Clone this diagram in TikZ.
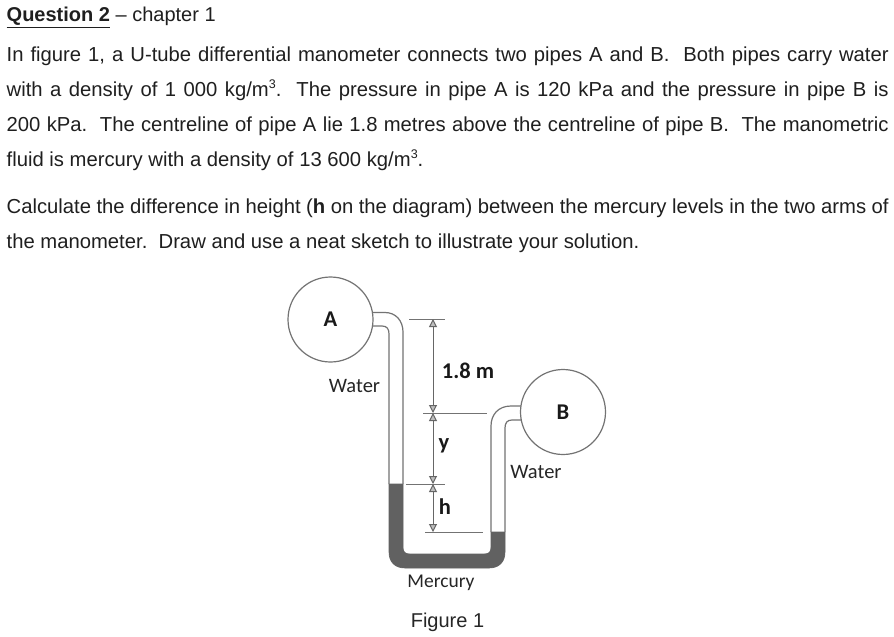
\documentclass[tikz,border=0pt]{standalone}
\usepackage{fontspec}
\setmainfont{Liberation Sans}
\newfontfamily\figfont{Carlito}
\usetikzlibrary{arrows.meta}
\tikzset{
  textline/.style={anchor=base west,inner sep=0pt,text=black!88,font=\fontsize{20.25}{22}\selectfont},
  figlabel/.style={inner sep=0pt,text=black!85,font=\figfont\fontsize{19.5}{22}\selectfont},
  figbold/.style={inner sep=0pt,text=black!90,font=\figfont\bfseries\fontsize{22.5}{24}\selectfont},
  pipe/.style={circle,draw=black!55,line width=1.2pt,minimum size=85pt,inner sep=0pt,fill=white},
  wall/.style={draw=black!55,line width=1.2pt},
  dim/.style={draw=black!55,line width=1pt},
  dimarrow/.style={draw=black!60,line width=1pt,{Triangle[fill=black!25,length=8pt,width=8pt]}-{Triangle[fill=black!25,length=8pt,width=8pt]}},
  mercury/.style={fill=black!62,draw=black!62,line width=0.6pt}
}
\newcommand{\justline}[1]{\hbox to 882pt{#1}}
\newcommand{\cubed}{\raisebox{.38em}{\fontsize{12.5}{13}\selectfont 3}}
\begin{document}
\begin{tikzpicture}[x=1pt,y=-1pt]
\useasboundingbox (0,0) rectangle (894,637);
\fill[white] (0,0) rectangle (894,637);
% text
\node[textline,font=\fontsize{20}{22}\selectfont] (t0) at (6.5,21.5) {\underline{\textbf{Question 2}} -- chapter 1};
\node[textline] (t1) at (6.5,61) {\justline{In figure 1, a U-tube differential manometer connects two pipes A and B.\ \ Both pipes carry water}};
\node[textline] (t2) at (6.5,96) {\justline{with a density of 1 000 kg/m\cubed.\ \ The pressure in pipe A is 120 kPa and the pressure in pipe B is}};
\node[textline] (t3) at (6.5,131.5) {\justline{200 kPa.\ \ The centreline of pipe A lie 1.8 metres above the centreline of pipe B.\ \ The manometric}};
\node[textline] (t4) at (6.5,166.5) {fluid is mercury with a density of 13 600 kg/m\cubed.};
\node[textline] (t5) at (6.5,213.5) {\justline{Calculate the difference in height (\textbf{h} on the diagram) between the mercury levels in the two arms of}};
\node[textline] (t6) at (6.5,248.5) {the manometer.\ \ Draw and use a neat sketch to illustrate your solution.};
% mercury
\path[mercury] (389,484) -- (403,484) -- (403,547) .. controls (403,552) and (405,554) .. (410,554)
  -- (484,554) .. controls (489,554) and (491,552) .. (491,547) -- (491,532) -- (505,532) -- (505,552)
  .. controls (505,562) and (499,568) .. (489,568) -- (405,568) .. controls (395,568) and (389,562) .. (389,552) -- cycle;
% tube walls
\coordinate (aout) at (371,312.5);
\coordinate (ain) at (371,326);
\coordinate (bout) at (522,406);
\coordinate (bin) at (522,420);
\draw[wall] (aout) -- (385,312.5) .. controls (396,312.5) and (403,321) .. (403,332) -- (403,484);
\draw[wall] (ain) -- (382,326) .. controls (387,326) and (389,329) .. (389,334) -- (389,484);
\draw[wall] (bout) -- (511,406) .. controls (498,406) and (491,415) .. (491,426) -- (491,532);
\draw[wall] (bin) -- (512,420) .. controls (507,420) and (505,423) .. (505,428) -- (505,532);
% pipes
\node[pipe,figbold] (A) at (330.5,319.5) {A};
\node[pipe,figbold] (B) at (563,412) {B};
% dimension lines
\coordinate (d1) at (433,319);
\coordinate (d2) at (433,413);
\coordinate (d3) at (433,484);
\coordinate (d4) at (433,532);
\draw[dim] (409,319) -- (445,319);
\draw[dim] (423,413) -- (487,413);
\draw[dim] (406,484) -- (445,484);
\draw[dim] (425,532) -- (483,532);
\draw[dimarrow] (d1) -- (d2);
\draw[dimarrow] (d2) -- (d3);
\draw[dimarrow] (d3) -- (d4);
% labels
\node[figbold] (l18) at (468,371) {1.8 m};
\node[figbold] (ly) at (444,446) {y};
\node[figbold] (lh) at (445,507) {h};
\node[figlabel,font=\figfont\fontsize{20.5}{22}\selectfont] (w1) at (354.5,386) {Water};
\node[figlabel,font=\figfont\fontsize{20.5}{22}\selectfont] (w2) at (536,472) {Water};
\node[figlabel] (hg) at (441,582.5) {Mercury};
\node[figlabel,font=\fontsize{20}{22}\selectfont] (fig) at (447.5,622) {Figure 1};
\end{tikzpicture}
\end{document}
